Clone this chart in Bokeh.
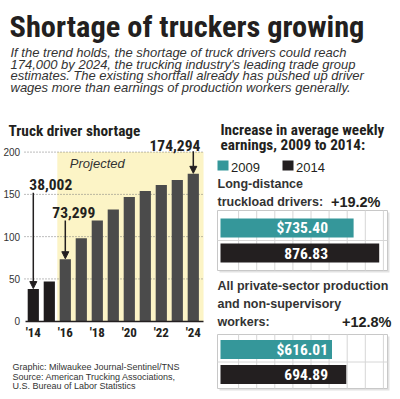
from bokeh.plotting import figure
from bokeh.models import Range1d, FixedTicker, Arrow, NormalHead, LinearAxis
from bokeh.core.properties import value
from bokeh.embed import file_html
from bokeh.resources import INLINE

# ---------------- data ----------------
title_text = "Shortage of truckers growing"
subtitle_lines = [
    "If the trend holds, the shortage of truck drivers could reach",
    "174,000 by 2024, the trucking industry's leading trade group",
    "estimates. The existing shortfall already has pushed up driver",
    "wages more than earnings of production workers generally.",
]
source_lines = [
    "Graphic: Milwaukee Journal-Sentinel/TNS",
    "Source: American Trucking Associations,",
    "U.S. Bureau of Labor Statistics",
]

chart_title = "Truck driver shortage"
years = [2014, 2015, 2016, 2017, 2018, 2019, 2020, 2021, 2022, 2023, 2024]
shortage_k = [38.002, 47.0, 73.299, 98.0, 119.0, 132.0, 147.0, 154.0, 161.0, 167.0, 174.294]
projected_from = 2016
projected_label = "Projected"
x_tick_years = [2014, 2016, 2018, 2020, 2022, 2024]
x_tick_labels = ["'14", "'16", "'18", "'20", "'22", "'24"]
y_ticks = [0, 50, 100, 150, 200]
labeled_years = [2014, 2016, 2024]

earn_title = ["Increase in average weekly", "earnings, 2009 to 2014:"]
earn_series = ["2009", "2014"]
group1_lines = ["Long-distance", "truckload drivers:"]
group2_lines = ["All private-sector production", "and non-supervisory", "workers:"]
earn_2009 = [735.40, 616.01]
earn_2014 = [876.83, 694.89]
earn_grid = [100, 200, 300, 400, 500, 600, 700, 800, 900]

# ---------------- styles / layout ----------------
W, H = 392, 391
INK = "#231f20"
GREY_TXT = "#333333"
TEAL = "#35979a"
ACTUAL = "#1f1c1d"
PROJ = "#4b4b4b"
YELLOW = "#fcf4c6"
COND = "Roboto Condensed"
SANS = "Liberation Sans"
BASE_FIX = 0.2   # lift applied to alphabetic-baseline texts, in em


def px_range(anchor_px, anchor_val, px_per_unit, total_px, flip=False):
    """Range whose scale puts anchor_val at anchor_px (pixels from left / top)."""
    if flip:  # vertical: pixels measured from top, values grow upward
        top = anchor_val + anchor_px / px_per_unit
        return Range1d(top - total_px / px_per_unit, top)
    start = anchor_val - anchor_px / px_per_unit
    return Range1d(start, start + total_px / px_per_unit)


p = figure(width=W, height=H, x_range=Range1d(0, W), y_range=Range1d(H, 0),
           title=None, output_backend="svg", toolbar_location=None,
           x_axis_location=None, y_axis_location=None, min_border=0)
p.grid.visible = False
p.outline_line_color = None
p.background_fill_color = "white"
p.border_fill_color = "white"

# chart scales: year 2014 centre at x=32.8 px, 16 px/year; 0 at y=320.7, 0.8455 px/unit
p.extra_x_ranges["cx"] = px_range(32.8, 2014, 16.0, W)
p.extra_y_ranges["cy"] = px_range(320.7, 0, 0.8455, H, flip=True)
# earnings scales
p.extra_x_ranges["ex"] = px_range(220.0, 0, 0.181, W)
p.extra_y_ranges["e1"] = px_range(265.0, 0, 25.0, H, flip=True)
p.extra_y_ranges["e2"] = px_range(386.5, 0, 25.0, H, flip=True)


def tx(xs, ys, texts, size, font=SANS, style="normal", color=INK, align="left",
       baseline="alphabetic", **kw):
    lift = -BASE_FIX * size if baseline == "alphabetic" else 0
    p.text(x=xs, y=ys, text=texts, text_font=value(font), text_font_size=f"{size}px",
           text_font_style=style, text_color=color, text_align=align,
           text_baseline=baseline, text_line_height=1.0,
           y_offset=kw.pop("y_offset", 0) + lift, **kw)


def put(x, y, txt, size, font=SANS, style="normal", color=INK, align="left", **kw):
    tx([x], [y], [txt], size, font, style, color, align, **kw)


# ---------------- header ----------------
put(9, 31.7, title_text, 30.4, COND, "bold")
for i, line in enumerate(subtitle_lines):
    put(10, 54.5 + i * 11.7, line, 13, SANS, "italic", GREY_TXT)

# ---------------- left: bar chart ----------------
put(8, 133.3, chart_title, 15.3, COND, "bold")

C = dict(x_range_name="cx", y_range_name="cy")
plot_left, plot_right = 2013.45, 2024.64   # plot-area extent in years
p.quad(left=[projected_from - 0.5], right=[plot_right], bottom=[0], top=[max(y_ticks)],
       fill_color=YELLOW, line_color=None, **C)
grid_y = [t for t in y_ticks if t > 0]
p.segment(x0=[plot_left] * len(grid_y), x1=[plot_right] * len(grid_y), y0=grid_y,
          y1=grid_y, line_color="#7a7a7a", line_dash="1 2", line_width=1, **C)
colors = [ACTUAL if y < projected_from else PROJ for y in years]
p.vbar(x=years, top=shortage_k, width=0.7, color=colors, line_color=None, **C)

yax = LinearAxis(fixed_location=2013.3, ticker=FixedTicker(ticks=y_ticks), **C)
yax.axis_line_color = None
yax.major_tick_line_color = None
yax.minor_tick_line_color = None
yax.major_tick_out = 0
yax.major_tick_in = 0
yax.major_label_standoff = 2
yax.major_label_text_font = SANS
yax.major_label_text_font_size = "10px"
yax.major_label_text_color = GREY_TXT
p.add_layout(yax, "left")

xax = LinearAxis(fixed_location=0, ticker=FixedTicker(ticks=x_tick_years),
                 bounds=(2013.5, plot_right), **C)
xax.major_label_overrides = dict(zip(x_tick_years, x_tick_labels))
xax.axis_line_color = INK
xax.axis_line_width = 1.3
xax.major_tick_line_color = None
xax.minor_tick_line_color = None
xax.major_tick_out = 0
xax.major_tick_in = 0
xax.major_label_standoff = 4
xax.major_label_text_font = COND
xax.major_label_text_font_style = "bold"
xax.major_label_text_font_size = "13px"
xax.major_label_text_color = INK
p.add_layout(xax, "below")

tx([2018], [183], [projected_label], 13, SANS, "italic", GREY_TXT, "center", **C)

# value callouts: label baseline / arrow start (chart units) and alignment
callout_style = {
    2014: dict(label_y=157.8, arrow_y=152.0, align="left", dx=-4),
    2016: dict(label_y=125.0, arrow_y=119.0, align="left", dx=-13),
    2024: dict(label_y=203.9, arrow_y=201.0, align="right", dx=7),
}
for yr in labeled_years:
    v = shortage_k[years.index(yr)]
    st = callout_style[yr]
    tx([yr], [st["label_y"]], [f"{v * 1000:,.0f}"], 15.5, COND, "bold", INK,
       st["align"], x_offset=st["dx"], **C)
    p.add_layout(Arrow(end=NormalHead(size=7, fill_color=INK, line_color=INK),
                       x_start=yr, y_start=st["arrow_y"], x_end=yr, y_end=v + 0.6,
                       line_color=INK, line_width=1.5, **C))

for i, line in enumerate(source_lines):
    put(12, 368.5 + i * 9.5, line, 9, SANS, "normal", GREY_TXT)

# ---------------- right: earnings ----------------
put(220, 132.7, earn_title[0], 15.2, COND, "bold")
put(220, 147.7, earn_title[1], 15.2, COND, "bold")
legend_x = [222.5, 287.5]
for lx, name, col in zip(legend_x, earn_series, [TEAL, INK]):
    p.rect(x=[lx], y=[165], width=11, height=10, fill_color=col, line_color=None)
    put(lx + 8, 170, name, 13, SANS, "normal", INK)
put(217, 186, group1_lines[0], 12.5, SANS, "bold", GREY_TXT)
put(217, 204, group1_lines[1], 12.5, SANS, "bold", GREY_TXT)
pct1 = (earn_2014[0] / earn_2009[0] - 1) * 100
put(380, 204, f"+{pct1:.1f}%", 14.5, SANS, "bold", INK, align="right")

box_x = (-16.6, 922.6)  # panel frame extent in dollars
label_at = 594          # right edge of in-bar value labels, in dollars


def earn_panel(yname, y_lo, y_hi, v09, v14, bar_h):
    E = dict(x_range_name="ex", y_range_name=yname)
    sx, sy = 2.0 / 0.181, 2.0 / 25.0
    p.quad(left=[box_x[0] + sx], right=[box_x[1] + sx], bottom=[y_lo - sy],
           top=[y_hi - sy], fill_color="#e2e2e2", line_color=None, **E)
    p.quad(left=[box_x[0]], right=[box_x[1]], bottom=[y_lo], top=[y_hi],
           fill_color="white", line_color="#c8c8c8", line_width=1, **E)
    p.segment(x0=earn_grid, x1=earn_grid, y0=[y_lo] * len(earn_grid),
              y1=[y_hi] * len(earn_grid), line_color="#d6d6d6", line_width=1, **E)
    vals = [v14, v09]
    ys = [i + 0.5 for i in range(len(vals))]
    p.segment(x0=[box_x[0]], x1=[box_x[1]], y0=[1], y1=[1], line_color="#d6d6d6", **E)
    p.hbar(y=ys, right=vals, left=0, height=bar_h, color=[INK, TEAL], line_color=None, **E)
    labels = [f"{v14:,.2f}", f"${v09:,.2f}"]
    tx([label_at] * 2, ys, labels, 15.5, COND, "bold", "white", "right",
       baseline="middle", **E)


earn_panel("e1", -0.2, 2.2, earn_2009[0], earn_2014[0], 0.76)

for i, line in enumerate(group2_lines):
    put(217, 288.3 + i * 18.0, line, 12.5, SANS, "bold", GREY_TXT)
pct2 = (earn_2014[1] / earn_2009[1] - 1) * 100
put(391, 324.3, f"+{pct2:.1f}%", 14.5, SANS, "bold", INK, align="right")

earn_panel("e2", -0.06, 2.1, earn_2009[1], earn_2014[1], 0.76)

open("out.html", "w").write(file_html(p, INLINE))
